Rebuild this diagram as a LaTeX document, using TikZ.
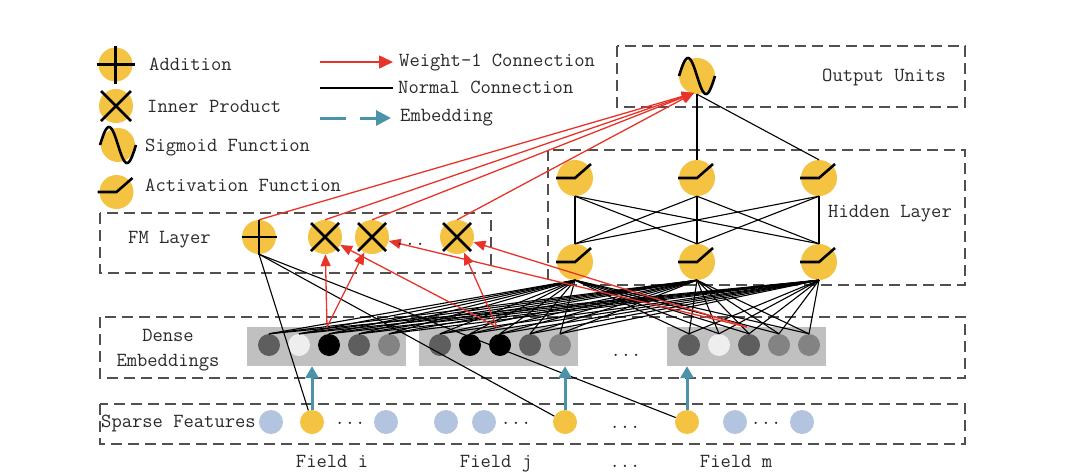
\documentclass[tikz,border=0pt]{standalone}
\usepackage{fontspec}
\usetikzlibrary{arrows.meta}
\definecolor{ylw}{HTML}{F5C342}
\definecolor{sblue}{HTML}{B3C5DE}
\definecolor{rgray}{HTML}{C0C0C0}
\definecolor{dA}{HTML}{5E5E5E}
\definecolor{dL}{HTML}{EEEEEE}
\definecolor{dM}{HTML}{838383}
\definecolor{boxc}{HTML}{505050}
\definecolor{tealc}{HTML}{4A93A8}
\definecolor{wr}{HTML}{E8332A}
\definecolor{txtc}{HTML}{2A2A2A}
\tikzset{
  dbox/.style={draw=boxc, line width=2.2pt, dash pattern=on 11pt off 6pt},
  lbl/.style={font=\ttfamily\fontsize{20pt}{24pt}\selectfont, text=txtc, inner sep=0pt},
  yel/.style={circle, fill=ylw, minimum size=34pt, inner sep=0pt},
  emb/.style={circle, minimum size=22pt, inner sep=0pt},
  sparse/.style={circle, minimum size=24pt, inner sep=0pt},
  erect/.style={rectangle, fill=rgray, inner sep=0pt, minimum width=159pt, minimum height=39pt},
  icon/.style={draw=black, line width=2.6pt},
  norm/.style={draw=black, line width=1.1pt},
  wred/.style={draw=wr, line width=1.3pt, -{Triangle[length=12pt,width=10pt]}},
  embarrow/.style={draw=tealc, line width=3pt, -{Triangle[length=12pt,width=13pt]}},
  plusicon/.pic={\draw[icon] (-#1,0) -- (#1,0) (0,-#1) -- (0,#1);},
  crossicon/.pic={\draw[icon] (-#1,-#1) -- (#1,#1) (-#1,#1) -- (#1,-#1);},
  sigicon/.pic={\draw[icon] plot[domain=-18:18,samples=37,smooth] (\x,{18*sin(10*\x)});},
  reluicon/.pic={\draw[icon] (-19,0) -- (0,0) -- (16,-14);},
}
\begin{document}
\begin{tikzpicture}[x=1pt,y=-1pt]
\useasboundingbox[fill=white] (0,0) rectangle (1074,474);

% dashed layer boxes
\draw[dbox] (617,46) rectangle (965,107);
\draw[dbox] (548,150) rectangle (965,285);
\draw[dbox] (100,213) rectangle (491,273);
\draw[dbox] (100,317) rectangle (965,378);
\draw[dbox] (100,404) rectangle (965,444);

% embedding rectangles
\node[erect] (r1) at (326.5,346.5) {};
\node[erect] (r2) at (498,346.5) {};
\node[erect] (r3) at (746.5,346.5) {};

% embedding circles
\foreach \i/\xx/\cc in {1/269/dA,2/299/dL,3/329/black,4/359/dA,5/389/dM,
  6/440/dA,7/470/black,8/500/black,9/530/dA,10/560/dM,
  11/689/dA,12/719/dL,13/749/dA,14/779/dM,15/809/dM}
  \node[emb,fill=\cc] (e\i) at (\xx,345) {};

% sparse features
\node[sparse,fill=sblue] (s1) at (271,422) {};
\node[sparse,fill=ylw] (si) at (312,422) {};
\node[sparse,fill=sblue] (s3) at (386,422) {};
\node[sparse,fill=sblue] (s4) at (446,422) {};
\node[sparse,fill=sblue] (s5) at (484,422) {};
\node[sparse,fill=ylw] (sj) at (565,422) {};
\node[sparse,fill=ylw] (sm) at (687,422) {};
\node[sparse,fill=sblue] (s8) at (735,422) {};
\node[sparse,fill=sblue] (s9) at (802,422) {};

% hidden layers
\foreach \i/\xx in {1/575,2/697,3/819}{
  \node[yel,minimum size=36pt] (h\i) at (\xx,178) {};
  \node[yel,minimum size=36pt] (b\i) at (\xx,262) {};
}
% output
\node[yel,minimum size=36pt] (out) at (697,76) {};
% FM layer
\node[yel] (add) at (259,237) {};
\node[yel] (ip1) at (325,237) {};
\node[yel] (ip2) at (372,237) {};
\node[yel] (ip4) at (457,237) {};

% black connections
\foreach \e in {1,...,15}
  \foreach \b in {1,2,3}
    \draw[norm] (b\b.south) -- (e\e.north);
\foreach \a in {1,2,3}
  \foreach \b in {1,2,3}
    \draw[norm] (h\a.south) -- (b\b.north);
\draw[norm] (out.south) -- (h2.north);
\draw[norm] (out.south) -- (h3.north);
\draw[norm] (add.south) -- (si);
\draw[norm] (add.south) -- (sj);
\draw[norm] (add.south) -- (sm);

% weight-1 connections
\coordinate (t1) at (327,327);
\coordinate (t2) at (497,327);
\coordinate (t3) at (747,327);
\draw[wred] (t1) -- (ip1);
\draw[wred] (t2) -- (ip1);
\draw[wred] (t1) -- (ip2);
\draw[wred] (t3) -- (ip2);
\draw[wred] (t2) -- (ip4);
\draw[wred] (t3) -- (ip4);
\coordinate (oin) at (694,93);
\draw[wred] (add.north) -- (oin);
\draw[wred] (ip1.north) -- (oin);
\draw[wred] (ip2.north) -- (oin);
\draw[wred] (ip4.north) -- (oin);

% embedding arrows
\draw[embarrow] (si.north) -- (si.north |- r1.south);
\draw[embarrow] (sj.north) -- (sj.north |- r2.south);
\draw[embarrow] (sm.north) -- (sm.north |- r3.south);

% icons
\foreach \i in {1,2,3}{ \pic at (h\i) {reluicon}; \pic at (b\i) {reluicon}; }
\pic at (out) {sigicon};
\pic at (add) {plusicon=17.5};
\pic at (ip1) {crossicon=14};
\pic at (ip2) {crossicon=14};
\pic at (ip4) {crossicon=14};

% legend icons
\node[yel] (lgadd) at (115.5,64.5) {};
\pic at (lgadd) {plusicon=19};
\node[yel] (lgip) at (116,106) {};
\pic at (lgip) {crossicon=15};
\node[yel] (lgsig) at (118,145) {};
\pic at (lgsig) {sigicon};
\node[yel] (lgact) at (116.5,192) {};
\pic at (lgact) {reluicon};

% legend connectors
\coordinate (la1) at (320,62); \coordinate (la2) at (393,62);
\draw[wred, line width=1.6pt, -{Triangle[length=14pt,width=13pt]}] (la1) -- (la2);
\coordinate (lb1) at (320,88); \coordinate (lb2) at (393,88);
\draw[norm, line width=1.8pt] (lb1) -- (lb2);
\coordinate (lc1) at (320,118); \coordinate (lc2) at (346,118);
\coordinate (lc3) at (360,118); \coordinate (lc4) at (391,118);
\draw[draw=tealc, line width=3pt] (lc1) -- (lc2);
\draw[embarrow, -{Triangle[length=15pt,width=15pt]}] (lc3) -- (lc4);

% legend texts
\node[lbl,anchor=base west] (tadd) at (149,70.5) {Addition};
\node[lbl,anchor=base west] (tip) at (147,112.5) {Inner Product};
\node[lbl,anchor=base west] (tsig) at (145,151.5) {Sigmoid Function};
\node[lbl,anchor=base west] (tact) at (145,191.5) {Activation Function};
\node[lbl,anchor=base west] (tw1) at (399,66.5) {Weight-1 Connection};
\node[lbl,anchor=base west] (tnc) at (398,93) {Normal Connection};
\node[lbl,anchor=base west] (temb) at (400,121.5) {Embedding};

% layer texts
\node[lbl,anchor=base west] (tout) at (822,81.5) {Output Units};
\node[lbl,anchor=base west] (thid) at (828,217) {Hidden Layer};
\node[lbl,anchor=base west] (tfm) at (128,243) {FM Layer};
\node[lbl,anchor=base] (tde1) at (168,341.5) {Dense};
\node[lbl,anchor=base] (tde2) at (168,366.5) {Embeddings};
\node[lbl,anchor=base west,fill=white] (tsp) at (101,427.5) {Sparse Features};

% dots
\node[lbl,anchor=base] (dfm) at (410,245) {...};
\node[lbl,anchor=base] (dde) at (626,356) {...};
\node[lbl,anchor=base] (dsp1) at (350,424) {...};
\node[lbl,anchor=base] (dsp2) at (516,424) {...};
\node[lbl,anchor=base] (dsp3) at (766,424) {...};
\node[lbl,anchor=base] (dsp4) at (625,428) {...};

% field labels
\node[lbl,anchor=base] (fi) at (332,467) {Field i};
\node[lbl,anchor=base] (fj) at (496,467) {Field j};
\node[lbl,anchor=base] (fd) at (625,467) {...};
\node[lbl,anchor=base] (fm) at (736,467) {Field m};
\end{tikzpicture}
\end{document}
